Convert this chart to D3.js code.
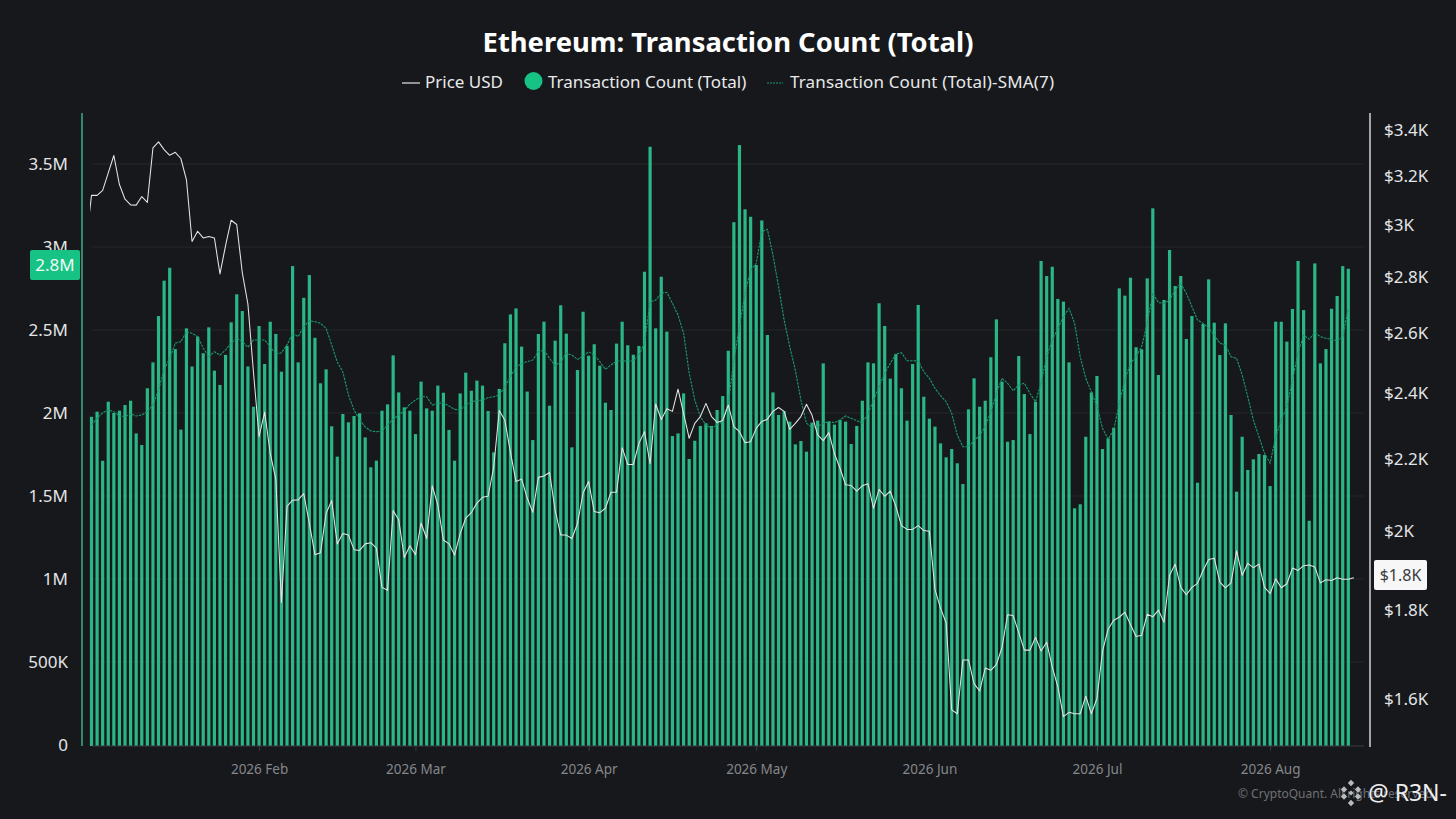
<!DOCTYPE html>
<html>
<head>
<meta charset="utf-8">
<script src="https://cdnjs.cloudflare.com/ajax/libs/d3/7.8.5/d3.min.js"></script>
<style>
html,body{margin:0;padding:0;background:#17181c;}
svg{display:block;font-family:"Noto Sans",sans-serif;}
</style>
</head>
<body>
<svg id="c" width="1456" height="819"></svg>
<script>
const chartTitle = "Ethereum: Transaction Count (Total)";
const legendLabels = ["Price USD", "Transaction Count (Total)", "Transaction Count (Total)-SMA(7)"];
const firstDay = "2026-01-02";
const txCountM = [
1.977,2.008,1.712,2.068,2.000,2.014,2.048,2.074,1.877,1.807,2.149,2.305,2.584,2.797,2.875,2.385,1.900,2.510,2.280,2.460,
2.360,2.516,2.255,2.169,2.350,2.546,2.715,2.614,2.280,2.038,2.524,2.295,2.550,2.476,2.249,2.404,2.885,2.305,2.694,2.831,
2.453,2.179,2.263,1.920,1.737,1.994,1.944,1.982,1.998,1.853,1.673,1.713,2.014,2.052,2.347,2.124,2.034,2.014,1.873,2.189,
2.028,2.014,2.165,2.122,1.898,1.713,2.118,2.243,2.134,2.195,2.165,2.012,1.763,2.145,2.420,2.594,2.630,2.400,2.129,1.837,
2.476,2.550,2.044,2.436,2.649,2.478,1.793,2.259,2.610,2.345,2.414,2.285,2.062,2.018,2.418,2.550,2.408,2.351,2.404,2.851,
3.604,2.510,2.821,2.490,1.861,1.877,2.118,1.723,1.833,1.922,1.938,1.922,2.018,2.102,2.375,3.149,3.614,3.227,3.182,2.892,
3.160,2.470,2.124,1.988,2.012,1.948,1.811,1.831,1.767,1.942,1.954,2.299,1.948,1.930,1.958,1.948,1.813,1.922,2.074,2.305,
2.299,2.661,2.524,2.207,2.355,2.149,1.954,2.295,2.651,2.098,1.966,1.918,1.817,1.733,1.783,1.697,1.572,2.022,2.209,2.038,
2.074,2.336,2.564,2.189,1.827,1.837,2.343,2.114,1.873,2.068,2.916,2.825,2.881,2.687,2.671,2.305,1.426,1.450,1.857,2.124,
2.223,1.783,1.847,1.911,2.751,2.707,2.815,2.396,2.384,2.811,3.233,2.229,2.681,2.982,2.765,2.825,2.446,2.584,1.580,2.536,
2.805,2.544,2.349,2.540,1.988,1.526,1.857,1.657,1.721,1.753,1.747,1.560,2.550,2.550,2.430,2.627,2.916,2.620,1.351,2.901,
2.299,2.385,2.628,2.705,2.885,2.869];
const smaM = [
1.928,1.968,2.002,2.018,2.008,1.982,1.978,1.994,1.982,1.988,2.008,2.048,2.139,2.259,2.329,2.420,2.430,2.490,2.480,2.460,
2.390,2.339,2.369,2.349,2.380,2.420,2.450,2.430,2.396,2.440,2.440,2.440,2.400,2.354,2.363,2.410,2.480,2.460,2.520,2.556,
2.550,2.540,2.510,2.410,2.307,2.247,2.108,2.018,1.958,1.916,1.892,1.887,1.892,1.928,1.962,1.988,2.014,2.054,2.078,2.098,
2.098,2.048,2.058,2.062,2.042,2.022,2.018,2.048,2.068,2.074,2.078,2.092,2.098,2.108,2.158,2.219,2.275,2.299,2.309,2.319,
2.369,2.380,2.329,2.285,2.309,2.360,2.349,2.323,2.343,2.369,2.349,2.309,2.263,2.289,2.313,2.313,2.313,2.315,2.349,2.420,
2.670,2.681,2.721,2.727,2.661,2.590,2.480,2.240,2.078,1.978,1.928,1.908,1.928,1.948,2.058,2.319,2.520,2.721,2.861,2.902,
3.092,3.107,2.952,2.761,2.560,2.400,2.259,2.078,1.938,1.914,1.918,1.938,1.948,1.942,1.958,1.982,1.968,1.954,1.938,1.998,
2.078,2.158,2.239,2.299,2.355,2.363,2.315,2.315,2.313,2.249,2.209,2.149,2.104,2.068,1.998,1.867,1.797,1.797,1.833,1.867,
1.918,2.008,2.118,2.209,2.179,2.134,2.169,2.179,2.119,2.068,2.179,2.339,2.440,2.510,2.580,2.630,2.540,2.339,2.209,2.128,
2.038,1.908,1.842,1.898,2.058,2.199,2.299,2.339,2.400,2.540,2.721,2.665,2.661,2.681,2.741,2.781,2.721,2.640,2.560,2.540,
2.510,2.470,2.420,2.410,2.339,2.329,2.229,2.098,1.958,1.857,1.757,1.697,1.857,1.958,2.038,2.199,2.360,2.470,2.444,2.484,
2.460,2.450,2.444,2.434,2.460,2.630];
// starts one day before the first bar; that day is clipped at the plot edge
const priceUsd = [2925,
3118,3118,3139,3212,3287,3163,3102,3079,3078,3113,3089,3320,3347,3313,3288,3301,3274,3183,2933,
2973,2947,2953,2947,2810,2917,3017,3000,2814,2700,2466,2265,2340,2215,2140,1818,2065,2082,2083,2100,
2019,1937,1942,2046,2081,1965,1992,1988,1950,1948,1965,1968,1954,1855,1848,2054,2028,1930,1960,1937,2020,
1979,2122,2069,1975,1965,1936,1992,2033,2048,2074,2090,2093,2175,2345,2315,2218,2134,2141,2088,2049,
2146,2150,2160,2055,1988,1988,1979,2018,2102,2134,2051,2048,2060,2104,2104,2232,2183,2183,2245,2280,
2185,2365,2317,2350,2342,2412,2336,2260,2305,2326,2367,2326,2308,2314,2362,2295,2280,2247,2250,2290,
2311,2318,2342,2354,2342,2287,2305,2326,2364,2330,2270,2253,2277,2215,2172,2125,2123,2107,2122,2128,
2060,2112,2093,2107,2065,2013,2003,2003,2013,2000,1998,1850,1804,1770,1577,1569,1685,1685,1633,1617,
1667,1662,1675,1713,1789,1787,1747,1707,1707,1736,1705,1725,1669,1626,1563,1572,1569,1569,1606,1569,
1601,1705,1755,1776,1783,1795,1766,1738,1741,1790,1784,1800,1771,1885,1913,1855,1837,1855,1865,1897,
1925,1928,1868,1854,1866,1947,1885,1915,1904,1913,1855,1840,1876,1854,1864,1903,1897,1909,1911,1906,
1866,1874,1872,1879,1875,1875,1879];
const leftTicksM = [0,0.5,1,1.5,2,2.5,3,3.5];
const rightTicks = [1600,1800,2000,2200,2400,2600,2800,3000,3200,3400];
const monthTicks = ["2026-02-01","2026-03-01","2026-04-01","2026-05-01","2026-06-01","2026-07-01","2026-08-01"];
const lastTxLabel = "2.8M";
const lastPriceLabel = "$1.8K";

const svg = d3.select("#c");
const day0 = d3.isoParse(firstDay + "T00:00:00Z");
const dateOf = i => d3.utcDay.offset(day0, i);

const x = d3.scaleUtc().domain([day0, dateOf(226)]).range([91.5, 1353.9]);
const yL = d3.scaleLinear().domain([0, 3.5]).range([745, 164]);
const yR = d3.scaleLog().domain([1600, 3400]).range([699, 130]);

const green = "#2ab685";

svg.append("clipPath").attr("id", "plot").append("rect")
  .attr("x", 90).attr("y", 100).attr("width", 1275).attr("height", 650);

// grid
svg.append("g").selectAll("line").data(leftTicksM.filter(d => d > 0)).join("line")
  .attr("x1", 92).attr("x2", 1364).attr("y1", d => yL(d)).attr("y2", d => yL(d))
  .attr("stroke", "#26272b").attr("stroke-width", 1);

// bars
svg.append("g").selectAll("rect").data(txCountM).join("rect")
  .attr("x", (d, i) => x(dateOf(i)) - 1.6).attr("width", 3.2)
  .attr("y", d => yL(d)).attr("height", d => yL(0) + 1 - yL(d))
  .attr("fill", green);

// SMA
svg.append("path").datum(smaM)
  .attr("fill", "none").attr("stroke", "#1a9a6e").attr("stroke-width", 1.1)
  .attr("stroke-dasharray", "2.5 1")
  .attr("d", d3.line().x((d, i) => x(dateOf(i))).y(d => yL(d)));

// price
svg.append("path").datum(priceUsd)
  .attr("clip-path", "url(#plot)")
  .attr("fill", "none").attr("stroke", "#e2e5e4").attr("stroke-width", 1.05)
  .attr("stroke-linejoin", "round")
  .attr("d", d3.line().x((d, i) => x(dateOf(i - 1))).y(d => yR(d)));

// axes lines
svg.append("line").attr("x1", 82).attr("x2", 82).attr("y1", 113).attr("y2", 746).attr("stroke", "#3aa583").attr("stroke-width", 1.6);
svg.append("line").attr("x1", 1370).attr("x2", 1370).attr("y1", 113).attr("y2", 747).attr("stroke", "#dfe0e0").attr("stroke-width", 1.4);

// left labels
svg.append("g").selectAll("text").data(leftTicksM).join("text")
  .attr("x", 68).attr("y", d => yL(d)).attr("dy", "0.36em").attr("text-anchor", "end")
  .attr("fill", "#e3e4e5").attr("font-size", 17)
  .text(d => d === 0 ? "0" : d < 1 ? (d * 1000) + "K" : d + "M");

// right labels
svg.append("g").selectAll("text").data(rightTicks).join("text")
  .attr("x", 1384).attr("y", d => yR(d)).attr("dy", "0.36em")
  .attr("fill", "#e3e4e5").attr("font-size", 17)
  .text(d => "$" + (d / 1000) + "K");

// x axis
const axisX = d3.axisBottom(x)
  .tickValues(monthTicks.map(d => d3.isoParse(d + "T00:00:00Z")))
  .tickFormat(d3.utcFormat("%Y %b")).tickSize(5).tickPadding(13);
const gx = svg.append("g").attr("transform", "translate(0,746)").call(axisX);
gx.select(".domain").attr("stroke", "#3a3b3f").attr("d", "M92,0H1364");
gx.selectAll(".tick line").attr("stroke", "#3a3b3f");
gx.selectAll("text").attr("fill", "#85878b").attr("font-size", 13.5).attr("font-family", '"Noto Sans",sans-serif');

// end tags
const tagL = svg.append("g");
tagL.append("rect").attr("x", 30).attr("y", 250).attr("width", 50).attr("height", 30).attr("rx", 2).attr("fill", "#17c384");
tagL.append("text").attr("x", 55).attr("y", 265).attr("dy", "0.36em").attr("text-anchor", "middle").attr("fill", "#f2fbf7").attr("font-size", 17).text(lastTxLabel);
const tagR = svg.append("g");
tagR.append("rect").attr("x", 1374).attr("y", 560).attr("width", 53).attr("height", 30).attr("rx", 2).attr("fill", "#f7f7f8");
tagR.append("text").attr("x", 1400.5).attr("y", 575).attr("dy", "0.36em").attr("text-anchor", "middle").attr("fill", "#3a3b40").attr("font-size", 16).text(lastPriceLabel);

// title
svg.append("text").attr("x", 728).attr("y", 52).attr("text-anchor", "middle")
  .attr("fill", "#fff").attr("font-size", 27.4).attr("font-weight", 700).text(chartTitle);

// legend
const lg = svg.append("g").attr("font-size", 17).attr("fill", "#e8e9ea");
lg.append("line").attr("x1", 402).attr("x2", 420).attr("y1", 83).attr("y2", 83).attr("stroke", "#c8c9ca").attr("stroke-width", 1.4);
lg.append("text").attr("x", 425).attr("y", 88).text(legendLabels[0]);
lg.append("circle").attr("cx", 533.5).attr("cy", 81).attr("r", 9).attr("fill", "#17c384");
lg.append("text").attr("x", 548).attr("y", 88).text(legendLabels[1]);
lg.append("line").attr("x1", 767).attr("x2", 783).attr("y1", 83).attr("y2", 83).attr("stroke", "#1a9a6e").attr("stroke-width", 1.2).attr("stroke-dasharray", "2 1");
lg.append("text").attr("x", 790).attr("y", 88).attr("textLength", 264).text(legendLabels[2]);

// copyright + watermark
svg.append("text").attr("x", 1238).attr("y", 798).attr("fill", "#6f7175").attr("font-size", 12).text("© CryptoQuant. All rights reserved.");
const wm = svg.append("g").attr("fill", "#b9babb").attr("transform", "translate(1351,793)");
[[0,-10],[-7,-3.5],[7,-3.5],[0,10],[-7,3.5],[7,3.5]].forEach(p => {
  const s = 3.2;
  wm.append("path").attr("d", `M${p[0]},${p[1]-s}L${p[0]+s},${p[1]}L${p[0]},${p[1]+s}L${p[0]-s},${p[1]}Z`);
});
wm.append("path").attr("d", "M0,-2.5L2.5,0L0,2.5L-2.5,0Z");
svg.append("text").attr("x", 1368).attr("y", 801).attr("fill", "#eeeeef").attr("font-size", 23).text("@ R3N-");
</script>
</body>
</html>
